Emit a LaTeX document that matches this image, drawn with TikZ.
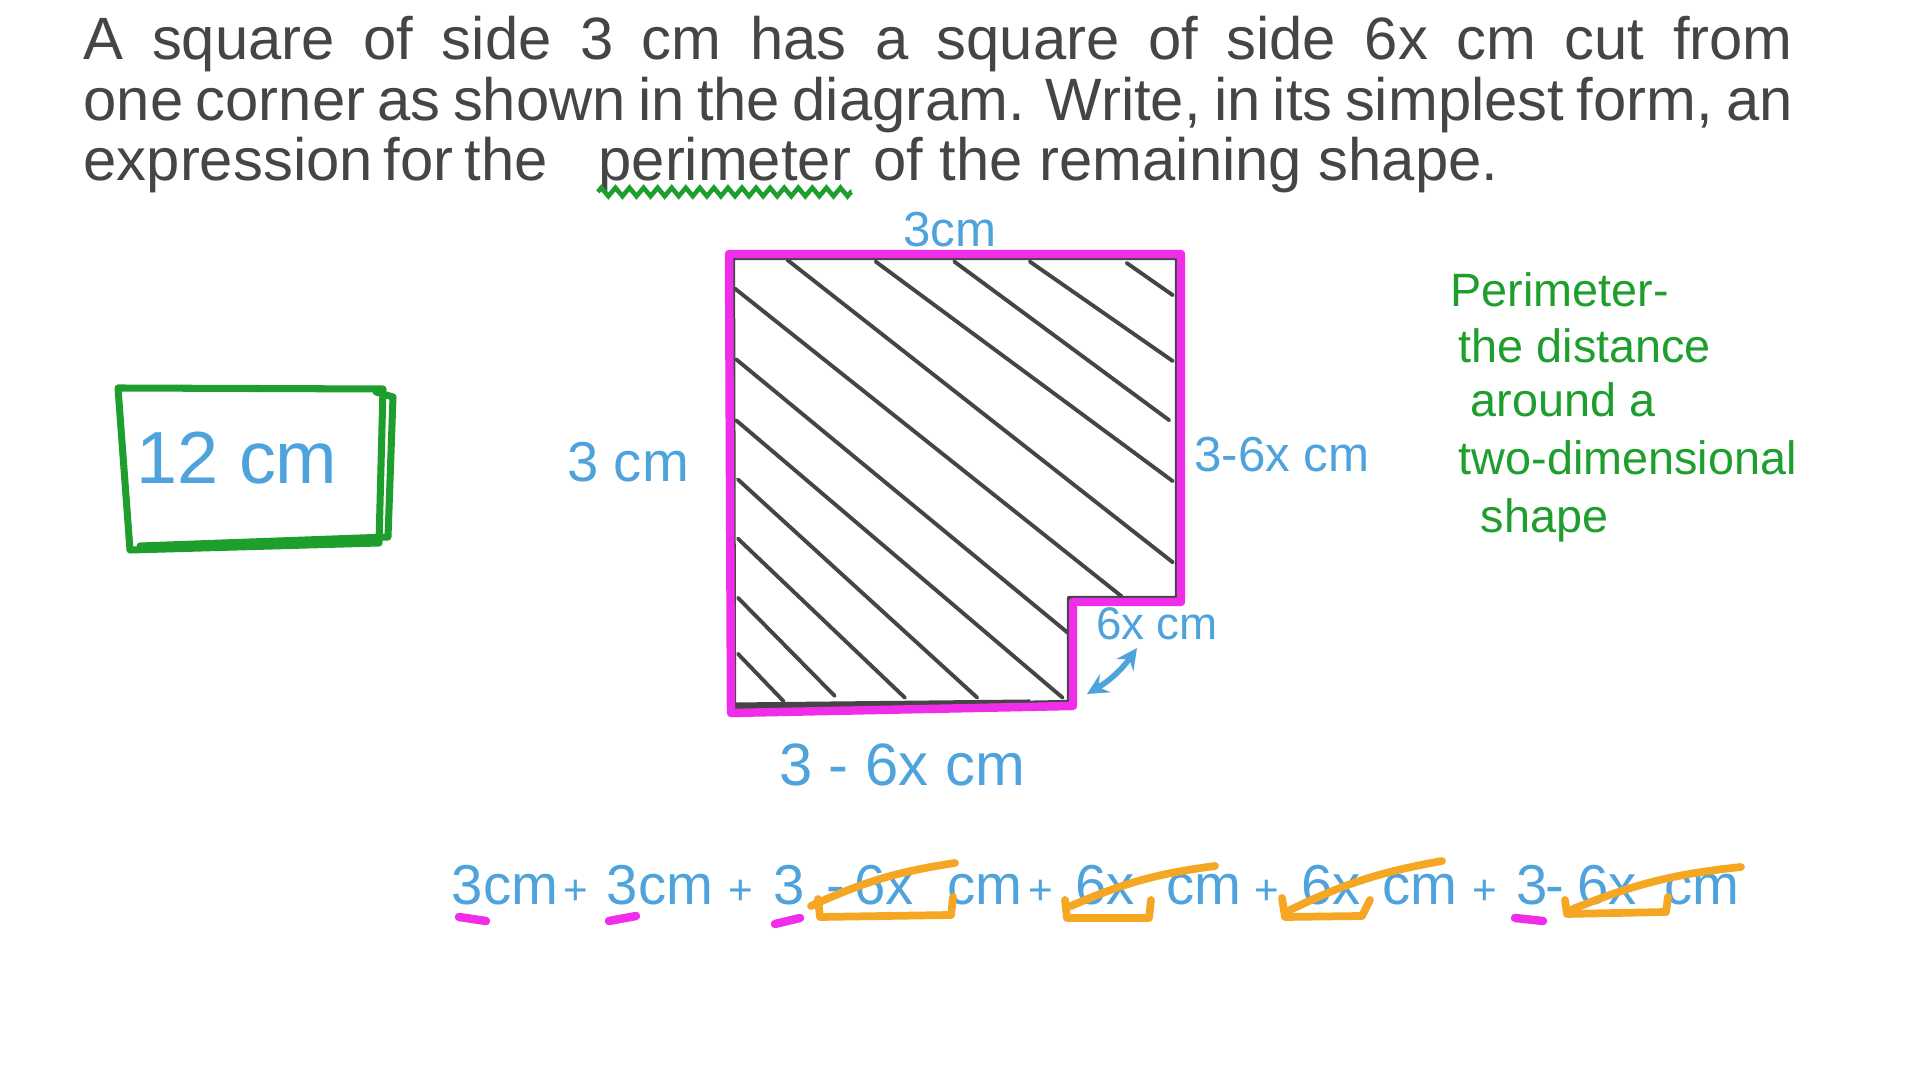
\documentclass[tikz,border=0pt]{standalone}
\usepackage{fontspec}
\setmainfont{Liberation Sans}
\usepackage{tikz}
\usetikzlibrary{arrows,positioning,calc,decorations.pathmorphing}

\definecolor{penblue}{HTML}{4FA3DC}
\definecolor{penpink}{HTML}{F02EEA}
\definecolor{pengreen}{HTML}{1E9E2C}
\definecolor{penorange}{HTML}{F5A623}
\definecolor{inkgray}{HTML}{454545}

\begin{document}
\begin{tikzpicture}[x=0.01cm,y=-0.01cm,
			qtext/.style={anchor=base west,inner sep=0pt,text=inkgray,font=\fontsize{17}{20}\selectfont},
			lbl/.style={inner sep=0pt,text=penblue},
			term/.style={anchor=base,inner sep=0pt,text=penblue,font=\fontsize{16}{19}\selectfont},
			plus/.style={term,font=\fontsize{12}{14}\selectfont},
			defn/.style={anchor=base west,inner sep=0pt,text=pengreen,font=\fontsize{13.3}{16}\selectfont},
			hatch/.style={draw=inkgray,line width=1.1pt,line cap=round},
			strike/.style={draw=penorange,line width=2.2pt,line cap=round,line join=round},
			tick/.style={draw=penpink,line width=2.4pt,line cap=round}]
		\fill[white] (0,0) rectangle (1920,1080);
		\useasboundingbox (0,0) rectangle (1920,1080);

		% question
		\path 	(83,60) 	node 	(q1) [qtext] {\hbox to 486pt{A square of side 3 cm has a square of side 6x cm cut from}}
		        (83,121) 	node 	(q2) [qtext] {\hbox to 486pt{one corner as shown in the diagram. Write, in its simplest form, an}}
		        (83,181) 	node 	(q3a) [qtext] {\hbox to 130pt{expression for the}};
		\node (q3b) [qtext, base right=16pt of q3a] {perimeter};
		\node (q3c) [qtext, base right=6pt of q3b] {of the remaining shape.};
		\draw [pengreen, line width=1.3pt, decorate, decoration={zigzag, segment length=4pt, amplitude=1.2pt}]
			($(q3b.base west)+(0,11)$) -- ($(q3b.base east)+(0,11)$);

		% the shape
		\draw [inkgray, line width=1.2pt, line join=round] (733,258) -- (1177,258) -- (1177,598) -- (1069,598) -- (1069,702) -- (734,708) -- cycle;
		\draw [inkgray, line width=2pt] (735,706) -- (1030,703);
		\begin{scope}[shift={(733,258)}, x=4.44cm, y=-4.48cm]
			\draw [hatch] (0.886,0.011) -- (0.99,0.083)
			              (0.668,0.008) -- (0.99,0.230)
			              (0.498,0.008) -- (0.982,0.362)
			              (0.321,0.008) -- (0.99,0.498)
			              (0.122,0.004) -- (0.99,0.679)
			              (0.004,0.068) -- (0.875,0.755)
			              (0.007,0.226) -- (0.756,0.838)
			              (0.007,0.362) -- (0.742,0.981)
			              (0.011,0.494) -- (0.55,0.981)
			              (0.011,0.626) -- (0.387,0.981)
			              (0.011,0.758) -- (0.229,0.977)
			              (0.011,0.883) -- (0.114,0.989);
		\end{scope}
		\draw [penpink, line width=2.4pt, line join=round] (729,254) -- (1181,254) -- (1181,602) -- (1073,602) -- (1073,706) -- (731,713) -- cycle;

		% side labels
		\path 	(950,230) 	node 	(topl) [lbl, font=\fontsize{14}{17}\selectfont] {3cm}
		        (628,462) 	node 	(leftl) [lbl, font=\fontsize{16}{19}\selectfont] {3 cm}
		        (1282,455) 	node 	(rightl) [lbl, font=\fontsize{14}{17}\selectfont] {3-6x cm}
		        (1157,624) 	node 	(cutl) [lbl, font=\fontsize{13}{16}\selectfont] {6x cm}
		        (902,765) 	node 	(botl) [lbl, font=\fontsize{17}{20}\selectfont] {3 - 6x cm};
		\coordinate (arrtop) at (1137,648);
		\coordinate (arrbot) at (1087,694);
		\draw [penblue, line width=1.6pt, stealth-stealth] (arrtop) to[bend left=12] (arrbot);

		% answer
		\path (237,458) node (ans) [lbl, font=\fontsize{21}{25}\selectfont] {12 cm};
		\draw [pengreen, line width=2pt, line join=round] (118,388) -- (383,389) -- (379,543) -- (130,550) -- cycle;
		\draw [pengreen, line width=2pt, line cap=round, line join=round] (376,392) -- (393,397) -- (388,537) -- (140,546);

		% definition
		\path 	(1450,307) 	node 	(def1) [defn] {Perimeter-}
		        (1458,363) 	node 	(def2) [defn] {the distance}
		        (1470,417) 	node 	(def3) [defn] {around a}
		        (1458,475) 	node 	(def4) [defn] {two-dimensional}
		        (1480,533) 	node 	(def5) [defn] {shape};

		% working
		\path 	(505,905) 	node 	(t1) [term] {3cm}
		        (576,905) 	node 	(p1) [plus] {+}
		        (660,905) 	node 	(t2) [term] {3cm}
		        (741,905) 	node 	(p2) [plus] {+}
		        (789,905) 	node 	(t3a) [term] {3}
		        (870,905) 	node 	(t3b) [term] {-\,6x}
		        (985,905) 	node 	(t3c) [term] {cm}
		        (1041,905) 	node 	(p3) [plus] {+}
		        (1105,905) 	node 	(t4a) [term] {6x}
		        (1204,905) 	node 	(t4b) [term] {cm}
		        (1267,905) 	node 	(p4) [plus] {+}
		        (1331,905) 	node 	(t5a) [term] {6x}
		        (1420,905) 	node 	(t5b) [term] {cm}
		        (1485,905) 	node 	(p5) [plus] {+}
		        (1532,905) 	node 	(t6a) [term] {3}
		        (1555,905) 	node 	(t6b) [term] {-}
		        (1607,905) 	node 	(t6c) [term] {6x}
		        (1702,905) 	node 	(t6d) [term] {cm};
		\draw [tick] (459,917) -- (486,921)  (609,921) -- (636,916)  (775,924) -- (800,918)  (1515,918) -- (1543,921);
		\draw [strike] (818,899) -- (820,917) -- (951,915) -- (953,897)
		               (1065,900) -- (1067,918) -- (1149,918) -- (1151,900)
		               (1282,898) -- (1285,917) -- (1362,916) -- (1370,900)
		               (1565,900) -- (1567,914) -- (1666,912) -- (1668,897);
		\draw [strike] (811,906) to[bend left=8] (955,863)
		               (1071,906) to[bend left=8] (1215,866)
		               (1286,912) to[bend left=8] (1442,861)
		               (1573,909) to[bend left=8] (1741,867);
	\end{tikzpicture}
\end{document}
